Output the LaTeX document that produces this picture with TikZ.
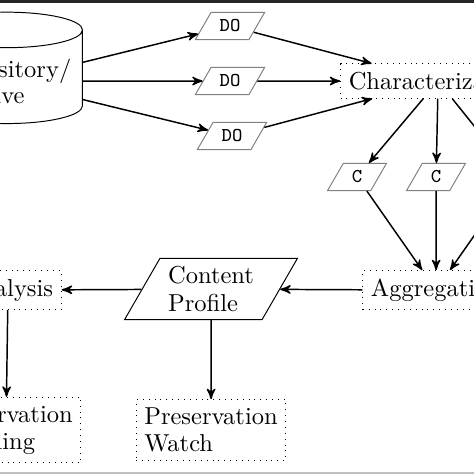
\documentclass[tikz,border=0pt]{standalone}
\usetikzlibrary{arrows,shapes,positioning}
\begin{document}
\begin{tikzpicture}[scale=0.01434,>=stealth',semithick,
    box/.style={draw,dotted,thin,align=left,font=\fontsize{10}{11.2}\selectfont},
    datum/.style={draw=gray,thin,trapezium,trapezium left angle=60,trapezium right angle=120,font=\footnotesize\ttfamily,inner xsep=3.5pt,inner ysep=3pt},
    profile/.style={draw,thin,trapezium,trapezium left angle=60,trapezium right angle=120,align=left,font=\fontsize{10}{11.2}\selectfont},
    store/.style={draw,thin,cylinder,shape border rotate=90,aspect=0.245,align=left,minimum width=61.6pt,inner ysep=4.3pt,font=\fontsize{10}{10.6}\selectfont}]
                    \useasboundingbox (0,0) rectangle (474,-474);
                    \clip (0,0) rectangle (474,-474);
                    % frame lines of the crop
                    \fill [black!85] (0,0) rectangle (474,-2.5);
                    \fill [gray!50] (0,-471.5) rectangle (474,-474);
                    % sources
                    \node [store] (repo) at (7,-81) {Repository/\\Archive};
                    \node [datum] (do1) at (230,-26) {DO};
                    \node [datum] (do2) at (230,-81) {DO};
                    \node [datum] (do3) at (232,-136) {DO};
                    \node [box] (charz) at (438,-81) {Characterization};
                    \node [datum] (c1) at (357,-177) {C};
                    \node [datum] (c2) at (436,-177) {C};
                    \node [datum] (c3) at (515,-177) {C};
                    \node [box] (aggr) at (436,-290) {Aggregation};
                    \node [profile] (prof) at (211,-289) {Content\\Profile};
                    \node [box] (analysis) at (8,-290) {Analysis};
                    \node [box] (planning) at (6,-430) {Preservation\\Planning};
                    \node [box] (watch) at (211,-430) {Preservation\\Watch};
                    % connectors
                    \draw [->] (repo) -- (do1);
                    \draw [->] (repo) -- (do2);
                    \draw [->] (repo) -- (do3);
                    \draw [->] (do1) -- (charz);
                    \draw [->] (do2) -- (charz);
                    \draw [->] (do3) -- (charz);
                    \draw [->] (charz) -- (c1);
                    \draw [->] (charz) -- (c2);
                    \draw [->] (charz) -- (c3);
                    \draw [->] (c1) -- (aggr);
                    \draw [->] (c2) -- (aggr);
                    \draw [->] (c3) -- (aggr);
                    \draw [->] (aggr) -- (prof);
                    \draw [->] (prof) -- (analysis);
                    \draw [->] (prof) -- (watch);
                    \draw [->] (analysis) -- (planning);
\end{tikzpicture}
\end{document}
